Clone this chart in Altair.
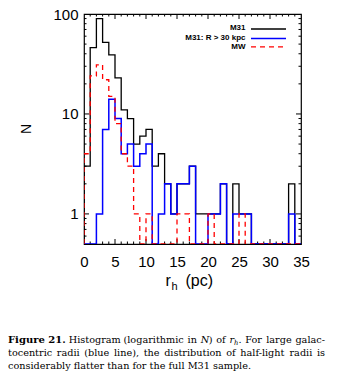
import altair as alt
import pandas as pd

# ---- data: histogram of r_h (1 pc bins, 0..35 pc) ----
bin_left = list(range(0, 35))
m31 = [3, 46, 90, 52, 39, 23, 11, 9, 5, 6,
       7, 3, 4, 2, 1, 2, 2, 3, 1, 1,
       1, 1, 2, 0, 2, 1, 1, 0, 0, 0,
       0, 0, 0, 2, 0]
m31_far = [0, 0, 1, 7, 14, 9, 4, 5, 3, 4,
           5, 0, 1, 2, 1, 2, 2, 3, 0, 0,
           1, 1, 2, 0, 1, 1, 1, 0, 0, 0,
           0, 0, 0, 1, 0]
mw = [4, 24, 31, 22, 15, 8, 4, 3, 1, 0,
      1, 0, 0, 0, 0, 1, 1, 0, 0, 0,
      1, 0, 0, 0, 0, 1, 0, 0, 0, 0,
      0, 0, 0, 0, 0]
x_tick_labels = [0, 5, 10, 15, 20, 25, 30, 35]
y_tick_labels = [1, 10, 100]
legend_names = ["M31", "M31: R > 30 kpc", "MW"]

W, H = 217, 230
xs = alt.Scale(domain=[0, 35], nice=False, zero=False)
ys = alt.Scale(type="log", domain=[0.5, 100], nice=False)
xaxis = alt.Axis(values=x_tick_labels, title=None, ticks=False, domain=False, grid=False,
                 labelFontSize=15, labelFont="Liberation Sans", labelColor="black",
                 labelPadding=10, labelFlush=False)
yaxis = alt.Axis(values=y_tick_labels, title=None, ticks=False, domain=False, grid=False,
                 format="d", labelFontSize=15, labelFont="Liberation Sans", labelColor="black",
                 labelPadding=6)


def step_table(counts):
    xs_ = [0] + bin_left + [35]
    ns = [0] + counts + [counts[-1]]
    return pd.DataFrame({"x": xs_, "N": ns, "i": list(range(len(xs_)))})


def step_layer(counts, color, width, dash=None):
    kw = dict(interpolate="step-after", color=color, strokeWidth=width, clip=True)
    if dash:
        kw["strokeDash"] = dash
    return alt.Chart(step_table(counts)).transform_calculate(
        Nc="max(datum.N, 0.5)"
    ).mark_line(**kw).encode(
        x=alt.X("x:Q", scale=xs, axis=xaxis),
        y=alt.Y("Nc:Q", scale=ys, axis=yaxis),
        order=alt.Order("i:Q"),
    )


def xtick_layers(vals, length):
    df = pd.DataFrame({"t": vals})
    base = alt.Chart(df).mark_rule(color="black", strokeWidth=1)
    return [
        base.encode(x=alt.X("t:Q", scale=xs, axis=xaxis), y=alt.value(H), y2=alt.value(H - length)),
        base.encode(x=alt.X("t:Q", scale=xs, axis=xaxis), y=alt.value(0), y2=alt.value(length)),
    ]


def ytick_layers(vals, length):
    df = pd.DataFrame({"t": vals})
    base = alt.Chart(df).mark_rule(color="black", strokeWidth=1)
    return [
        base.encode(y=alt.Y("t:Q", scale=ys, axis=yaxis), x=alt.value(0), x2=alt.value(length)),
        base.encode(y=alt.Y("t:Q", scale=ys, axis=yaxis), x=alt.value(W), x2=alt.value(W - length)),
    ]


dummy = pd.DataFrame({"a": [0]})


def txt(s, x, y, size, font="Liberation Sans", weight="normal", style="normal",
        align="left", baseline="alphabetic", angle=0):
    kw = dict(text=s, font=font, fontSize=size, fontWeight=weight, fontStyle=style,
              align=align, baseline=baseline, color="black")
    if angle:
        kw["angle"] = angle
    return alt.Chart(dummy).mark_text(**kw).encode(x=alt.value(x), y=alt.value(y))


def hline(x1, x2, y, color, width, dash=None):
    kw = dict(color=color, strokeWidth=width)
    if dash:
        kw["strokeDash"] = dash
    return alt.Chart(dummy).mark_rule(**kw).encode(x=alt.value(x1), x2=alt.value(x2), y=alt.value(y))


layers = []
# ticks
minor_x = [v for v in range(1, 35) if v % 5 != 0]
major_x = [5, 10, 15, 20, 25, 30]
minor_y = [0.6, 0.7, 0.8, 0.9] + list(range(2, 10)) + list(range(20, 100, 10))
major_y = [1, 10]
layers += xtick_layers(minor_x, 2.5) + xtick_layers(major_x, 5)
layers += ytick_layers(minor_y, 2.5) + ytick_layers(major_y, 5)

# histograms
layers.append(step_layer(m31, "black", 1.3))
layers.append(step_layer(m31_far, "#0000ff", 1.5))
layers.append(step_layer(mw, "#ff0000", 1.3, dash=[5, 4]))

# legend
ly = [14.4, 23.6, 32.6]
for name, yy in zip(legend_names, ly):
    layers.append(txt(name, 161.5, yy, 8, weight="bold", align="right", baseline="middle"))
layers.append(hline(167, 202, 15.0, "black", 1.3))
layers.append(hline(167, 202, 24.4, "#0000ff", 1.5))
layers.append(hline(167, 202, 32.8, "#ff0000", 1.3, dash=[5, 4]))

# axis titles
layers.append(txt("r", 81.5, 272, 16))
layers.append(txt("h", 87.5, 276, 11))
layers.append(txt("(pc)", 101.5, 272, 16))
layers.append(txt("N", -57, 115, 14, align="center", baseline="middle", angle=270))

# ---- caption, justified word by word ----
# approximate DejaVu Serif advance widths (em)
CW = {" ": .318, "a": .596, "b": .640, "c": .560, "d": .640, "e": .592, "f": .370, "g": .640,
      "h": .644, "i": .320, "k": .608, "l": .320, "m": .948, "n": .644, "o": .602, "p": .640,
      "r": .478, "s": .513, "t": .402, "u": .644, "y": .565, "H": .752, "F": .683, "M": .995,
      "N": .820, "1": .636, "3": .636, "(": .390, ")": .390, ".": .318, ",": .318, "-": .338}
FS = 9.7
SUB = 6.8
SERIF = "DejaVu Serif"


def wlen(s, size=FS):
    return sum(CW.get(c, .6) for c in s) * size


ox, oy = 84, 14
L, R = 8, 325
b1, b2, b3 = 343, 356, 368.5

line1 = [
    [("Figure 21.", "bold", 10, 0, 57.0)],
    [("Histogram", "normal", FS, 0, None)],
    [("(logarithmic", "normal", FS, 0, None)],
    [("in", "normal", FS, 0, None)],
    [("N", "italic", FS, 0, None), (")", "normal", FS, 0, None)],
    [("of", "normal", FS, 0, None)],
    [("r", "italic", FS, 0, None), ("h", "italic", SUB, 2, None), (".", "normal", FS, 0, None)],
    [("For", "normal", FS, 0, None)],
    [("large", "normal", FS, 0, None)],
    [("galac-", "normal", FS, 0, None)],
]


def piece_w(p):
    s, st, sz, dy, fixed = p
    return fixed if fixed is not None else wlen(s, sz)


def lay_line(groups, base):
    out = []
    total = sum(piece_w(p) for g in groups for p in g)
    gap = (R - L - total) / (len(groups) - 1)
    x = L
    for g in groups:
        for p in g:
            s, st, sz, dy, fixed = p
            weight = "bold" if st == "bold" else "normal"
            style = "italic" if st == "italic" else "normal"
            out.append(txt(s, x - ox, base - oy + dy, sz, font=SERIF, weight=weight, style=style))
            x += piece_w(p)
        x += gap
    return out


line2_words = ["tocentric", "radii", "(blue", "line),", "the", "distribution", "of",
               "half-light", "radii", "is"]
line2 = [[(w, "normal", FS, 0, None)] for w in line2_words]

layers += lay_line(line1, b1)
layers += lay_line(line2, b2)
layers.append(txt("considerably flatter than for the full M31 sample.", L - ox, b3 - oy, FS, font=SERIF))

chart = alt.layer(*layers).properties(
    width=W, height=H,
    autosize=alt.AutoSizeParams(type="none"),
    padding={"left": 84, "top": 14, "right": 37, "bottom": 133},
    background="white",
).configure_view(stroke="black", strokeWidth=1.2)

chart.save("out.html", embed_options={"renderer": "svg", "actions": False})
